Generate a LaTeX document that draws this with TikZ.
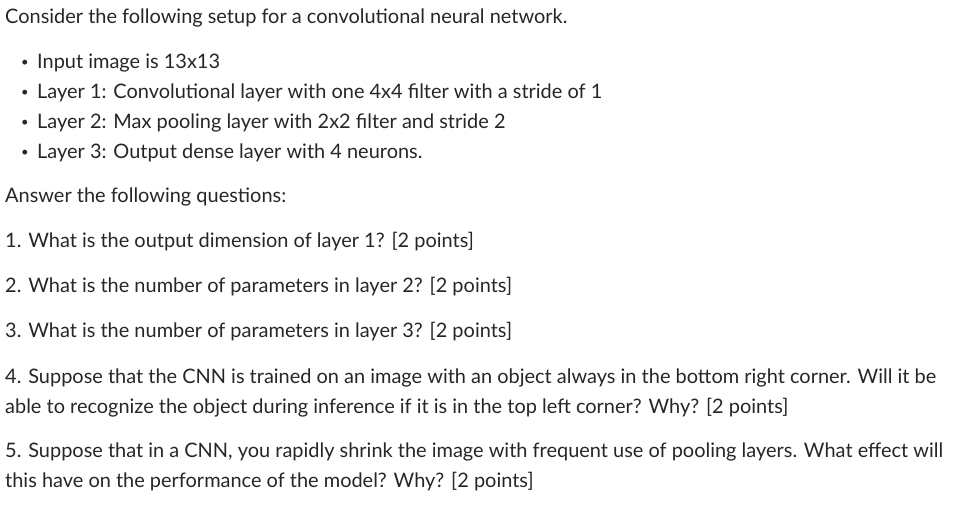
\documentclass[tikz,border=0pt]{standalone}
\usepackage{fontspec}
\setmainfont{Lato}
\begin{document}
\begin{tikzpicture}[x=1pt,y=1pt,
  txt/.style={anchor=base west,inner sep=0pt,font=\fontsize{19.95}{22}\selectfont,text=black!85},
  bul/.style={anchor=base west,inner sep=0pt,font=\fontsize{13}{14}\selectfont,text=black!85}]
\useasboundingbox (0,0) rectangle (964,-523);
\node[txt] (t0) at (5,-23) {Consider the following setup for a convolutional neural network.};
\node[bul] (b1) at (21,-66) {•};
\node[txt] (l1) at (37,-68) {Input image is 13x13};
\node[bul] (b2) at (21,-96) {•};
\node[txt] (l2) at (37,-98) {Layer 1: Convolutional layer with one 4x4 filter with a stride of 1};
\node[bul] (b3) at (21,-126) {•};
\node[txt] (l3) at (37,-128) {Layer 2: Max pooling layer with 2x2 filter and stride 2};
\node[bul] (b4) at (21,-156) {•};
\node[txt] (l4) at (37,-158) {Layer 3: Output dense layer with 4 neurons.};
\node[txt] (a) at (5,-202) {Answer the following questions:};
\node[txt] (q1) at (5,-247) {1. What is the output dimension of layer 1? [2 points]};
\node[txt] (q2) at (5,-292) {2. What is the number of parameters in layer 2? [2 points]};
\node[txt] (q3) at (5,-337) {3. What is the number of parameters in layer 3? [2 points]};
\node[txt] (q4a) at (5,-383) {4. Suppose that the CNN is trained on an image with an object always in the bottom right corner. Will it be};
\node[txt] (q4b) at (5,-413) {able to recognize the object during inference if it is in the top left corner? Why? [2 points]};
\node[txt] (q5a) at (5,-457) {5. Suppose that in a CNN, you rapidly shrink the image with frequent use of pooling layers. What effect will};
\node[txt] (q5b) at (5,-487) {this have on the performance of the model? Why? [2 points]};
\end{tikzpicture}
\end{document}
